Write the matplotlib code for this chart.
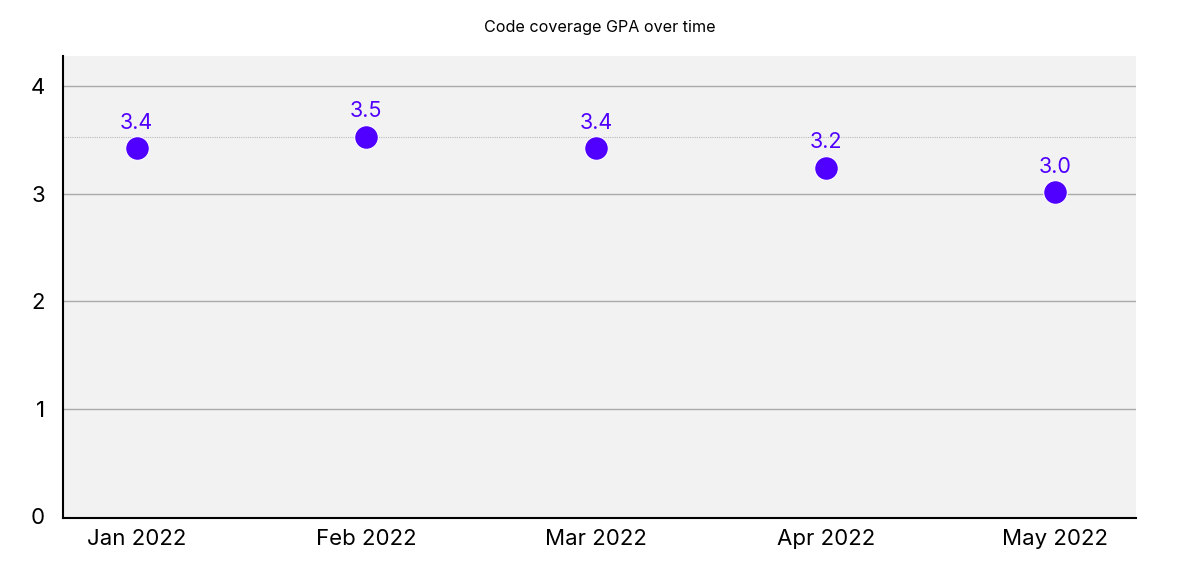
import matplotlib.pyplot as plt
import numpy as np

months = ['Jan 2022', 'Feb 2022', 'Mar 2022', 'Apr 2022', 'May 2022']
gpa = [3.42, 3.53, 3.42, 3.24, 3.01]
y_ticks = [0, 1, 2, 3, 4]

plt.rcParams['font.family'] = ['Inter', 'DejaVu Sans']
purple = '#5000ff'

fig = plt.figure(figsize=(12, 5.75), dpi=100)
ax = fig.add_axes([0.0525, 0.099, 0.894, 0.804])
ax.set_facecolor('#f2f2f2')

x = np.arange(len(months))
top = max(gpa)
# grid lines and max reference line
for t in y_ticks[1:]:
    ax.axhline(t, color='#aaaaaa', lw=1, zorder=1)
ax.axhline(top, color='#bbbbbb', lw=0.8, ls=(0, (1, 1)), zorder=1)

ax.scatter(x, gpa, s=290, color=purple, edgecolor='white', linewidth=0.8, zorder=3)
for xi, v in zip(x, gpa):
    ax.annotate('%.1f' % v, (xi, v), xytext=(0, 11), textcoords='offset points',
                ha='center', va='bottom', color=purple, fontsize=15.5)

ax.set_xlim(-0.32, 4.35)
ax.set_ylim(-0.015, 4.28)
ax.set_xticks(x)
ax.set_xticklabels(months)
ax.set_yticks(y_ticks)
ax.tick_params(axis='both', length=0, labelsize=16, colors='black')
ax.tick_params(axis='y', pad=13)
ax.tick_params(axis='x', pad=8)
for s in ['top', 'right']:
    ax.spines[s].set_visible(False)
for s in ['left', 'bottom']:
    ax.spines[s].set_linewidth(1.5)
    ax.spines[s].set_color('black')

fig.text(0.5, 0.953, 'Code coverage GPA over time', ha='center', va='center', fontsize=11.6)
fig.savefig('out.png', dpi=100)
